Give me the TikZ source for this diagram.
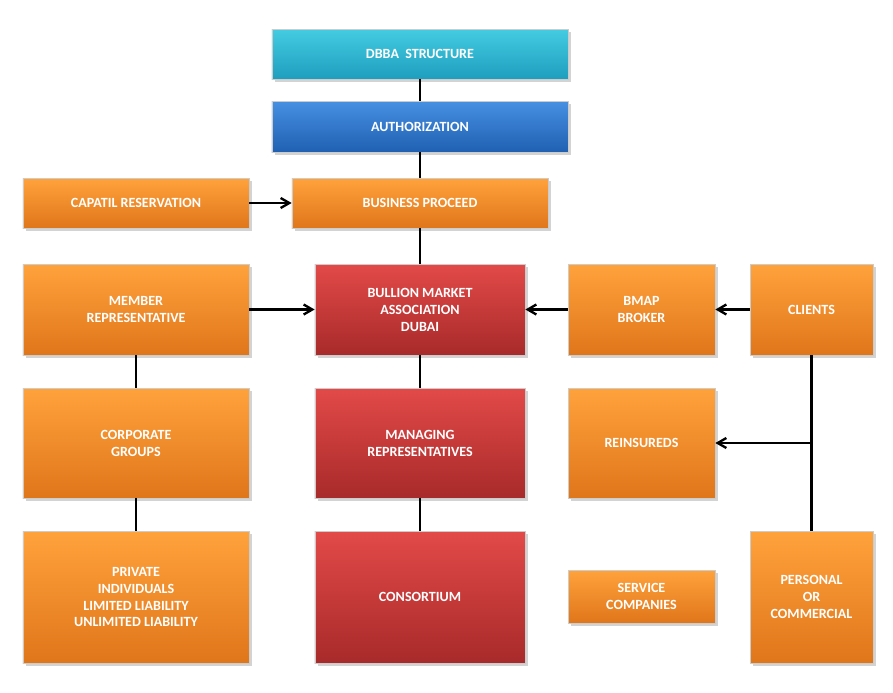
\documentclass[tikz,border=0pt]{standalone}
\usepackage{fontspec}
\setmainfont{Carlito}
\usetikzlibrary{shadows,arrows.meta,calc}
\definecolor{orTop}{HTML}{FFA23C}
\definecolor{orBot}{HTML}{E0761A}
\definecolor{rdTop}{HTML}{E24A48}
\definecolor{rdBot}{HTML}{A82A2A}
\definecolor{cyTop}{HTML}{44CCE2}
\definecolor{cyBot}{HTML}{1E9EBE}
\definecolor{blTop}{HTML}{4690E2}
\definecolor{blBot}{HTML}{2060B2}
\tikzset{
  box/.style={draw=gray!40,line width=0.6pt,align=center,text=white,
    font=\fontsize{12}{14.5}\selectfont\bfseries,drop shadow={opacity=0.35},inner sep=2pt},
  orbox/.style={box,top color=orTop,bottom color=orBot},
  rdbox/.style={box,top color=rdTop,bottom color=rdBot},
  line/.style={line width=2pt,black},
  arr/.style={line,-{Straight Barb[length=2.6mm,width=3mm]}}
}
\begin{document}
\begin{tikzpicture}[x=0.03cm,y=-0.03cm]
\useasboundingbox (0,0) rectangle (893,692);

% top column
\node[box,top color=cyTop,bottom color=cyBot,minimum width=8.88cm,minimum height=1.5cm] (dbba) at (420,54) {DBBA\ \ STRUCTURE};
\node[box,top color=blTop,bottom color=blBot,minimum width=8.88cm,minimum height=1.53cm] (auth) at (420,126.5) {AUTHORIZATION};
\node[orbox,minimum width=6.78cm,minimum height=1.5cm] (capres) at (136,203) {CAPATIL RESERVATION};
\node[orbox,minimum width=7.68cm,minimum height=1.5cm] (busproc) at (420,203) {BUSINESS PROCEED};

% middle row
\node[orbox,minimum width=6.78cm,minimum height=2.73cm] (member) at (136,309.5) {MEMBER\\REPRESENTATIVE};
\node[rdbox,minimum width=6.3cm,minimum height=2.73cm] (bullion) at (420,309.5) {BULLION MARKET\\ASSOCIATION\\DUBAI};
\node[orbox,minimum width=4.41cm,minimum height=2.73cm] (bmap) at (641.5,309.5) {BMAP\\BROKER};
\node[orbox,minimum width=3.69cm,minimum height=2.73cm] (clients) at (811.5,309.5) {CLIENTS};

\node[orbox,minimum width=6.78cm,minimum height=3.3cm] (corp) at (136,443) {CORPORATE\\GROUPS};
\node[rdbox,minimum width=6.3cm,minimum height=3.3cm] (managing) at (420,443) {MANAGING\\REPRESENTATIVES};
\node[orbox,minimum width=4.41cm,minimum height=3.3cm] (reins) at (641.5,443) {REINSUREDS};

% bottom row
\node[orbox,minimum width=6.78cm,minimum height=3.96cm] (private) at (136,597) {PRIVATE\\INDIVIDUALS\\LIMITED LIABILITY\\UNLIMITED LIABILITY};
\node[rdbox,minimum width=6.3cm,minimum height=3.96cm] (consort) at (420,597) {CONSORTIUM};
\node[orbox,minimum width=4.41cm,minimum height=1.59cm] (service) at (641.5,596.5) {SERVICE\\COMPANIES};
\node[orbox,minimum width=3.69cm,minimum height=3.96cm] (personal) at (811.5,597) {PERSONAL\\OR\\COMMERCIAL};

% connectors
\draw[line] (dbba) -- (auth);
\draw[line] (auth) -- (busproc);
\draw[line] (busproc) -- (bullion);
\draw[line] (bullion) -- (managing);
\draw[line] (managing) -- (consort);
\draw[line] (member) -- (corp);
\draw[line] (corp) -- (private);
\draw[line] (clients) -- (personal);
\draw[arr] (capres) -- (busproc);
\draw[arr] (member) -- (bullion);
\draw[arr] (bmap) -- (bullion);
\draw[arr] (clients) -- (bmap);
\draw[arr] (clients.south |- reins.east) -- (reins.east);
\end{tikzpicture}
\end{document}
